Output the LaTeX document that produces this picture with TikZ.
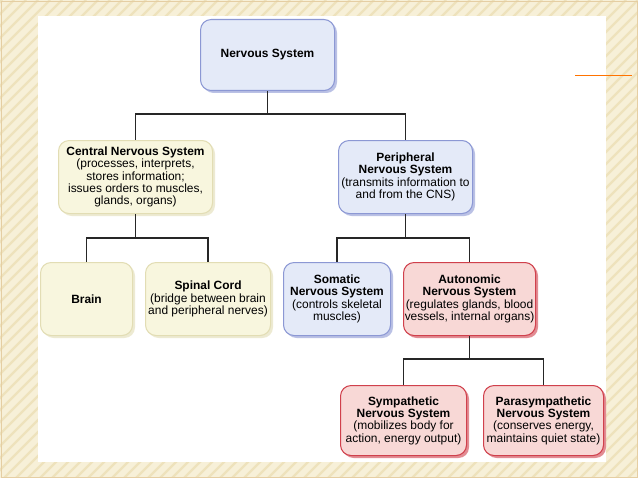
\documentclass[tikz,border=0pt]{standalone}
\usepackage{fontspec}
\setmainfont{Liberation Sans}
\begin{document}
\begin{tikzpicture}[x=0.03cm,y=-0.03cm,
  box/.style={rounded corners=9pt,line width=0.9pt,align=center,inner sep=2pt},
  bluebox/.style={box,fill=boxblue,draw=edgeblue},
  beigebox/.style={box,fill=boxbeige,draw=edgebeige},
  pinkbox/.style={box,fill=boxpink,draw=edgepink},
  conn/.style={line width=1.2pt,black!85}]
\definecolor{boxblue}{HTML}{E4EAF8}
\definecolor{edgeblue}{HTML}{8C98D4}
\definecolor{boxbeige}{HTML}{F8F6DE}
\definecolor{edgebeige}{HTML}{E2DDB4}
\definecolor{boxpink}{HTML}{F8D8D6}
\definecolor{edgepink}{HTML}{D0404C}
\definecolor{bgc}{HTML}{F7F0D8}
\definecolor{stripe}{HTML}{EEE2BC}
\useasboundingbox (0,0) rectangle (638,478);
\fill[bgc] (0,0) rectangle (638,478);
\begin{scope}
\clip (0,0) rectangle (638,478);
\foreach \i in {-500,-488,...,700} \draw[stripe,line width=2pt] (\i,478) -- (\i+478,0);
\end{scope}
\draw[stripe!80!brown,line width=0.6pt] (1,1) rectangle (637,477);
\fill[white] (38,16) rectangle (606,462);
\draw[orange!90!red,line width=0.8pt] (575,75) -- (632,75);
\newcommand{\bx}[7]{%
 \fill[#3,rounded corners=9pt,opacity=.6] ({#4+3},{#5+3}) rectangle ({#6+3},{#7+3});
 \node[#2,minimum width={(#6-#4)*0.03cm},minimum height={(#7-#5)*0.03cm},anchor=north west] (#1) at (#4,#5) {};}
\bx{ns}{bluebox}{edgeblue}{200}{19}{334}{90}
\bx{cns}{beigebox}{edgebeige}{58}{140}{212}{213}
\bx{pns}{bluebox}{edgeblue}{338}{140}{472}{213}
\bx{br}{beigebox}{edgebeige}{40}{262}{132}{335}
\bx{sc}{beigebox}{edgebeige}{145}{262}{270}{335}
\bx{so}{bluebox}{edgeblue}{283}{262}{390}{335}
\bx{au}{pinkbox}{edgepink}{403}{262}{535}{335}
\bx{sy}{pinkbox}{edgepink}{340}{385}{466}{455}
\bx{pa}{pinkbox}{edgepink}{483}{385}{603}{455}
\tikzset{lbl/.style={align=center,inner sep=0pt,font=\fontsize{10.2}{10.5}\selectfont}}
\node[lbl] at (ns) {\textbf{Nervous System}};
\node[lbl] at (cns) {\textbf{Central Nervous System}\\(processes, interprets,\\stores information;\\issues orders to muscles,\\glands, organs)};
\node[lbl] at (pns) {\textbf{Peripheral}\\\textbf{Nervous System}\\(transmits information to\\and from the CNS)};
\node[lbl] at (br) {\textbf{Brain}};
\node[lbl] at (sc) {\textbf{Spinal Cord}\\(bridge between brain\\and peripheral nerves)};
\node[lbl] at (so) {\textbf{Somatic}\\\textbf{Nervous System}\\(controls skeletal\\muscles)};
\node[lbl] at (au) {\textbf{Autonomic}\\\textbf{Nervous System}\\(regulates glands, blood\\vessels, internal organs)};
\node[lbl] at (sy) {\textbf{Sympathetic}\\\textbf{Nervous System}\\(mobilizes body for\\action, energy output)};
\node[lbl] at (pa) {\textbf{Parasympathetic}\\\textbf{Nervous System}\\(conserves energy,\\maintains quiet state)};
\draw[conn] (ns.south) -- ++(0,23) -| (cns.north);
\draw[conn] (ns.south) -- ++(0,23) -| (pns.north);
\draw[conn] (cns.south) -- ++(0,24) -| (br.north);
\draw[conn] (cns.south) -- ++(0,24) -| (sc.north);
\draw[conn] (pns.south) -- ++(0,24) -| (so.north);
\draw[conn] (pns.south) -- ++(0,24) -| (au.north);
\draw[conn] (au.south) -- ++(0,23) -| (sy.north);
\draw[conn] (au.south) -- ++(0,23) -| (pa.north);
\end{tikzpicture}
\end{document}
